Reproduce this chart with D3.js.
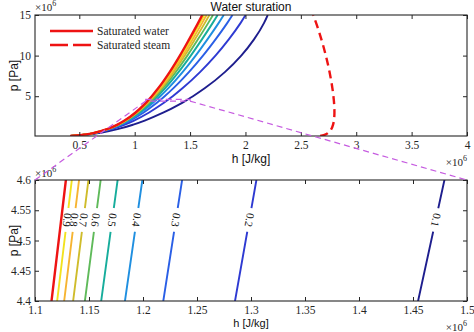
<!DOCTYPE html>
<html><head><meta charset="utf-8">
<script src="https://cdn.jsdelivr.net/npm/d3@7"></script>
<style>body{margin:0;background:#fff} svg{display:block}</style>
</head><body>
<svg id="c" width="474" height="332"></svg>
<script>
// pressure p [MPa] (x 1e6 Pa), enthalpy h [kJ/kg] (x 1e3 J/kg)
const pressure = [0.1, 0.3, 0.5, 1, 1.5, 2, 3, 4, 4.4, 4.6, 5, 6, 8, 10, 12, 14, 15];
const satWater = [417.5, 561.4, 640.1, 762.5, 844.6, 908.5, 1008.3, 1087.4, 1115.3, 1128.6, 1154.5, 1213.9, 1317.1, 1408.1, 1491.5, 1571.9, 1610.3];
const satSteam = [2674.9, 2724.9, 2748.1, 2777.1, 2791.0, 2798.3, 2803.2, 2800.8, 2798.5, 2797.0, 2794.2, 2784.6, 2758.7, 2725.5, 2685.4, 2638.3, 2610.8];
const iso09 = [417.7, 561.8, 640.8, 763.8, 846.5, 911.0, 1011.9, 1092.2, 1120.5, 1134.1, 1160.4, 1221.0, 1326.5, 1419.8, 1505.5, 1588.3, 1627.8];
const iso08 = [417.8, 562.4, 641.6, 765.4, 848.9, 914.1, 1016.5, 1098.1, 1127.0, 1140.8, 1167.8, 1229.7, 1338.0, 1434.1, 1522.6, 1608.0, 1648.8];
const iso07 = [418.1, 563.0, 642.7, 767.5, 851.9, 918.0, 1022.2, 1105.7, 1135.3, 1149.5, 1177.1, 1240.8, 1352.6, 1452.1, 1543.9, 1632.4, 1674.6];
const iso06 = [418.4, 564.0, 644.2, 770.3, 855.9, 923.3, 1029.9, 1115.7, 1146.2, 1160.8, 1189.4, 1255.4, 1371.5, 1475.3, 1571.0, 1663.1, 1706.9];
const iso05 = [418.9, 565.2, 646.2, 774.1, 861.5, 930.6, 1040.5, 1129.4, 1161.3, 1176.5, 1206.3, 1275.3, 1397.3, 1506.4, 1606.9, 1703.1, 1748.5];
const iso04 = [419.6, 567.1, 649.3, 779.9, 869.9, 941.4, 1056.1, 1149.7, 1183.3, 1199.4, 1230.9, 1304.2, 1434.1, 1550.2, 1656.6, 1757.2, 1804.2];
const iso03 = [420.7, 570.3, 654.3, 789.4, 883.6, 959.2, 1081.6, 1182.4, 1218.8, 1236.2, 1270.4, 1350.0, 1491.2, 1616.7, 1730.0, 1834.8, 1882.6];
const iso02 = [423.0, 576.6, 664.4, 808.2, 910.5, 993.8, 1130.4, 1244.0, 1285.2, 1305.0, 1343.6, 1433.6, 1591.9, 1729.3, 1849.4, 1955.2, 2001.1];
const iso01 = [429.9, 595.4, 694.0, 862.4, 986.9, 1090.2, 1261.6, 1403.7, 1454.7, 1479.1, 1526.4, 1634.7, 1816.4, 1962.0, 2077.2, 2167.0, 2201.1];
const isoLabels = ["0.9", "0.8", "0.7", "0.6", "0.5", "0.4", "0.3", "0.2", "0.1"];
const isoSeries = [iso09, iso08, iso07, iso06, iso05, iso04, iso03, iso02, iso01];
const legendLabels = ["Saturated water", "Saturated steam"];
const titleText = "Water sturation";
const topXTicks = [500, 1000, 1500, 2000, 2500, 3000, 3500, 4000];
const topYTicks = [5, 10, 15];
const botXTicks = [1100, 1150, 1200, 1250, 1300, 1350, 1400, 1450, 1500];
const botYTicks = [4.4, 4.45, 4.5, 4.55, 4.6];
const zoomH = [1100, 1500];
const zoomP = [4.4, 4.6];
const labelP = 4.534;

const isoColors = ["#f2e21e", "#f6b431", "#cfbc2b", "#5fba5a", "#17ad9c", "#1f8fe0", "#2a5fe6", "#2e3ad2", "#1e1e8e"];
const RED = "#ee1313", PURPLE = "#c65ce0", AX = "#262626";
const SERIF = "'Liberation Serif','Times New Roman',serif";
const SANS = "'Liberation Sans',Arial,sans-serif";

const svg = d3.select("#c");
const xT = d3.scaleLinear([100, 4000], [35, 467]);
const yT = d3.scaleLinear([0.1, 15], [136, 15]);
const xB = d3.scaleLinear(zoomH, [35, 467]);
const yB = d3.scaleLinear(zoomP, [301, 180]);

const defs = svg.append("defs");
function clip(id, xs, ys) {
  defs.append("clipPath").attr("id", id).append("rect")
    .attr("x", xs.range()[0]).attr("y", ys.range()[1])
    .attr("width", xs.range()[1] - xs.range()[0]).attr("height", ys.range()[0] - ys.range()[1]);
}
clip("cT", xT, yT); clip("cB", xB, yB);

function axes(xs, ys, xt, yt) {
  const fx = d => String(+(d / 1000).toFixed(3));
  const fy = d => String(d);
  const style = g => {
    g.select(".domain").remove();
    g.selectAll("line").attr("stroke", AX);
    g.selectAll("text").attr("fill", AX).attr("font-family", SERIF).attr("font-size", 11.5);
  };
  svg.append("g").attr("transform", `translate(0,${ys.range()[0]})`)
    .call(d3.axisBottom(xs).tickValues(xt).tickFormat(fx).tickSize(-4).tickPadding(5)).call(style);
  svg.append("g").attr("transform", `translate(0,${ys.range()[1]})`)
    .call(d3.axisTop(xs).tickValues(xt).tickFormat("").tickSize(-4)).call(style);
  svg.append("g").attr("transform", `translate(${xs.range()[0]},0)`)
    .call(d3.axisLeft(ys).tickValues(yt).tickFormat(fy).tickSize(-4).tickPadding(4)).call(style);
  svg.append("g").attr("transform", `translate(${xs.range()[1]},0)`)
    .call(d3.axisRight(ys).tickValues(yt).tickFormat("").tickSize(-4)).call(style);
  svg.append("rect").attr("x", xs.range()[0]).attr("y", ys.range()[1])
    .attr("width", xs.range()[1] - xs.range()[0]).attr("height", ys.range()[0] - ys.range()[1])
    .attr("fill", "none").attr("stroke", AX).attr("stroke-width", 1.1);
}

function exp10(x, y, anchor) {
  const t = svg.append("text").attr("x", x).attr("y", y).attr("text-anchor", anchor)
    .attr("font-family", SERIF).attr("font-size", 11).attr("fill", AX);
  t.append("tspan").text("×10");
  t.append("tspan").attr("dy", -5).attr("font-size", 8).text("6");
}

// ---------- top panel ----------
const lineT = d3.line().x(d => xT(d[0])).y(d => yT(d[1])).curve(d3.curveMonotoneY);
const gT = svg.append("g").attr("clip-path", "url(#cT)");
isoSeries.slice().reverse().forEach((s, i) => {
  const idx = isoSeries.length - 1 - i;
  gT.append("path").attr("d", lineT(s.map((h, j) => [h, pressure[j]])))
    .attr("fill", "none").attr("stroke", isoColors[idx]).attr("stroke-width", 1.9);
});
gT.append("path").attr("d", lineT(satWater.map((h, j) => [h, pressure[j]])))
  .attr("fill", "none").attr("stroke", RED).attr("stroke-width", 2.4);
gT.append("path").attr("d", lineT(satSteam.map((h, j) => [h, pressure[j]])))
  .attr("fill", "none").attr("stroke", RED).attr("stroke-width", 2.4).attr("stroke-dasharray", "8,5");
axes(xT, yT, topXTicks, topYTicks);

// legend
const lg = svg.append("g");
legendLabels.forEach((t, i) => {
  const y = 31 + i * 14;
  lg.append("line").attr("x1", 50).attr("x2", 93).attr("y1", y).attr("y2", y)
    .attr("stroke", RED).attr("stroke-width", 2.4).attr("stroke-dasharray", i ? "18,5" : null);
  lg.append("text").attr("x", 97).attr("y", y + 4).attr("font-family", SERIF)
    .attr("font-size", 11.5).attr("fill", AX).text(t);
});

svg.append("text").attr("x", 251).attr("y", 11).attr("text-anchor", "middle")
  .attr("font-family", SANS).attr("font-size", 12).attr("fill", "#111").text(titleText);
svg.append("text").attr("x", 251).attr("y", 162.5).attr("text-anchor", "middle")
  .attr("font-family", SANS).attr("font-size", 12).attr("fill", "#111").text("h [J/kg]");
svg.append("text").attr("transform", `translate(18,${(yT.range()[0] + yT.range()[1]) / 2}) rotate(-90)`)
  .attr("text-anchor", "middle").attr("font-family", SANS).attr("font-size", 12).attr("fill", "#111").text("p [Pa]");
exp10(35, 11, "start");
exp10(467, 166, "end");

// ---------- bottom panel ----------
const lineB = d3.line().x(d => xB(d[0])).y(d => yB(d[1]));
const gB = svg.append("g").attr("clip-path", "url(#cB)");
isoSeries.forEach((s, i) => {
  gB.append("path").attr("d", lineB(s.map((h, j) => [h, pressure[j]])))
    .attr("fill", "none").attr("stroke", isoColors[i]).attr("stroke-width", 1.9);
});
// label positions along each iso line
const i44 = pressure.indexOf(4.4), i46 = pressure.indexOf(4.6);
const labs = isoSeries.map((s, i) => {
  const ax = xB(s[i44]), ay = yB(pressure[i44]), bx = xB(s[i46]), by = yB(pressure[i46]);
  const t = (labelP - pressure[i44]) / (pressure[i46] - pressure[i44]);
  const ang = Math.atan2(by - ay, bx - ax) * 180 / Math.PI + 180;
  return { x: ax + t * (bx - ax), y: ay + t * (by - ay), ang, text: isoLabels[i] };
});
labs.forEach(l => {
  gB.append("rect").attr("x", -12).attr("y", -5).attr("width", 24).attr("height", 10)
    .attr("fill", "#fff").attr("transform", `translate(${l.x},${l.y}) rotate(${l.ang})`);
});
labs.forEach(l => {
  gB.append("text").attr("transform", `translate(${l.x},${l.y}) rotate(${l.ang})`)
    .attr("text-anchor", "middle").attr("dy", "0.33em").attr("font-family", SERIF)
    .attr("font-size", 11).attr("fill", "#111").text(l.text);
});
gB.append("path").attr("d", lineB(satWater.map((h, j) => [h, pressure[j]])))
  .attr("fill", "none").attr("stroke", RED).attr("stroke-width", 2.4);
axes(xB, yB, botXTicks, botYTicks);
svg.append("text").attr("x", 251).attr("y", 327).attr("text-anchor", "middle")
  .attr("font-family", SANS).attr("font-size", 11).attr("fill", "#111").text("h [J/kg]");
svg.append("text").attr("transform", `translate(18,${(yB.range()[0] + yB.range()[1]) / 2}) rotate(-90)`)
  .attr("text-anchor", "middle").attr("font-family", SANS).attr("font-size", 12).attr("fill", "#111").text("p [Pa]");
exp10(35, 177, "start");
exp10(467, 331, "end");

// ---------- zoom annotation ----------
const ann = svg.append("g").attr("fill", "none").attr("stroke", PURPLE)
  .attr("stroke-width", 1.2).attr("stroke-dasharray", "6,4");
ann.append("rect").attr("x", xT(zoomH[0])).attr("y", yT(zoomP[1]))
  .attr("width", xT(zoomH[1]) - xT(zoomH[0])).attr("height", yT(zoomP[0]) - yT(zoomP[1]));
zoomH.forEach(h => {
  ann.append("line").attr("x1", xT(h)).attr("y1", yT(zoomP[0]))
    .attr("x2", xB(h)).attr("y2", yB(zoomP[1]));
});
</script>
</body></html>
